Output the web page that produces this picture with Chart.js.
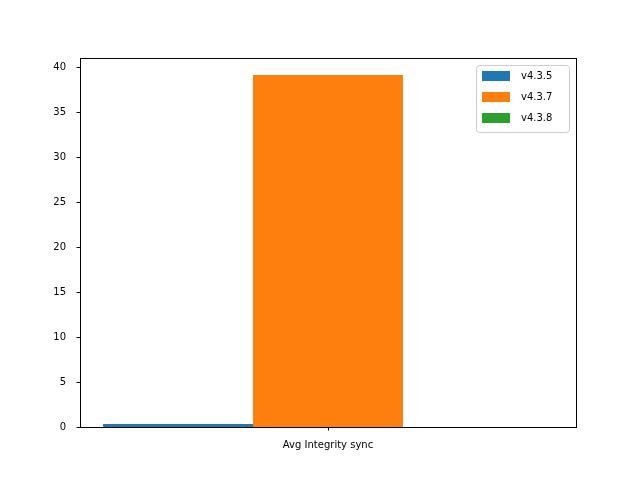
<!DOCTYPE html>
<html>
<head>
<script src="https://cdn.jsdelivr.net/npm/chart.js@4"></script>
<style>body{margin:0;background:#fff}#wrap{width:640px;height:480px}</style>
</head>
<body>
<div id="wrap"><canvas id="c" width="640" height="480"></canvas></div>
<script>
const categories = ["Avg Integrity sync"];
const versions = ["v4.3.5", "v4.3.7", "v4.3.8"];
const v435 = [0.33];
const v437 = [39.1];
const v438 = [0.0];
const colors = ["#1f77b4", "#ff7f0e", "#2ca02c"];
const yTicks = [0, 5, 10, 15, 20, 25, 30, 35, 40];

// frame + legend box like matplotlib
const frameLegend = {
  id: "frameLegend",
  afterDraw(chart) {
    const ctx = chart.ctx, a = chart.chartArea;
    ctx.save();
    ctx.strokeStyle = "#000";
    ctx.lineWidth = 1;
    ctx.strokeRect(a.left + 0.5, a.top + 0.5, a.right - a.left, a.bottom - a.top);
    const x = a.right - 100, y = a.top + 7, w = 93, h = 67;
    ctx.fillStyle = "rgba(255,255,255,0.8)";
    ctx.strokeStyle = "#ccc";
    ctx.beginPath();
    ctx.roundRect(x + 0.5, y + 0.5, w, h, 3);
    ctx.fill();
    ctx.stroke();
    ctx.font = "10px 'DejaVu Sans'";
    ctx.textBaseline = "middle";
    chart.data.datasets.forEach((d, i) => {
      const cy = y + 11 + i * 21;
      ctx.fillStyle = d.backgroundColor;
      ctx.fillRect(x + 6, cy - 5, 28, 10);
      ctx.fillStyle = "#000";
      ctx.fillText(d.label, x + 45, cy);
    });
    ctx.restore();
  }
};

new Chart(document.getElementById("c"), {
  type: "bar",
  data: {
    labels: categories,
    datasets: [v435, v437, v438].map((vals, i) => ({
      label: versions[i],
      data: vals,
      backgroundColor: colors[i],
      categoryPercentage: 0.907,
      barPercentage: 1.0
    }))
  },
  options: {
    responsive: false,
    animation: false,
    devicePixelRatio: 1,
    layout: { padding: { left: 0, right: 64, top: 58, bottom: 0 } },
    plugins: { legend: { display: false }, tooltip: { enabled: false } },
    scales: {
      x: {
        grid: { display: false, drawTicks: true },
        border: { display: false },
        ticks: { color: "#000", font: { family: "DejaVu Sans", size: 10 }, padding: 4 },
        afterFit(s) { s.height = 53; }
      },
      y: {
        min: 0, max: 41,
        afterBuildTicks(s) { s.ticks = yTicks.map(v => ({ value: v })); },
        grid: { display: false },
        border: { display: false },
        ticks: { color: "#000", font: { family: "DejaVu Sans", size: 10 }, padding: 6 },
        afterFit(s) { s.width = 80; }
      }
    }
  },
  plugins: [frameLegend, {
    id: "tickMarks",
    afterDraw(chart) {
      const ctx = chart.ctx, a = chart.chartArea, ys = chart.scales.y, xs = chart.scales.x;
      ctx.save();
      ctx.strokeStyle = "#000";
      ctx.beginPath();
      yTicks.forEach(v => {
        const py = Math.round(ys.getPixelForValue(v)) + 0.5;
        ctx.moveTo(a.left - 3.5, py); ctx.lineTo(a.left, py);
      });
      const px = Math.round(xs.getPixelForValue(0)) + 0.5;
      ctx.moveTo(px, a.bottom); ctx.lineTo(px, a.bottom + 3.5);
      ctx.stroke();
      ctx.restore();
    }
  }]
});
</script>
</body>
</html>
